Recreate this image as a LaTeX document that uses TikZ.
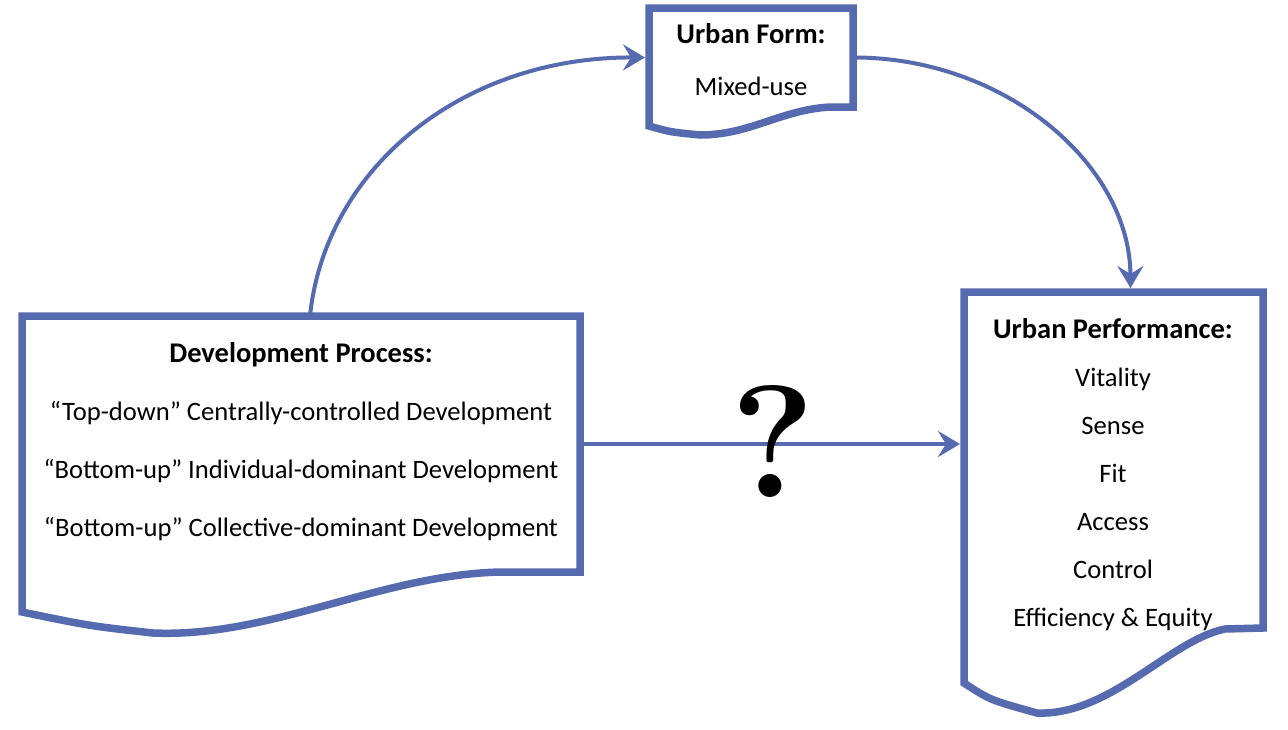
\documentclass[tikz,border=0pt]{standalone}
\usepackage{fontspec}
\newfontfamily\calfont{Carlito}
\usetikzlibrary{arrows.meta}
\definecolor{frameblue}{RGB}{85,106,175}
\tikzset{
  frame/.style={draw=frameblue, line width=7.5pt, line join=miter},
  box/.style={inner sep=0pt, outer sep=0pt},
  link/.style={draw=frameblue, line width=4pt, -{Stealth[length=22pt,width=26pt,inset=8pt]}, shorten >=4pt},
  txt/.style={anchor=base, font=\calfont\fontsize{26.6}{30}\selectfont},
  head/.style={anchor=base, font=\calfont\bfseries\fontsize{28.5}{32}\selectfont}
}
\begin{document}
\begin{tikzpicture}[x=1pt,y=-1pt]
\useasboundingbox (0,0) rectangle (1288,729);
% boxes
\node[box, minimum width=204pt, minimum height=99pt] (form) at (751,57.5) {};
\node[box, minimum width=558pt, minimum height=256pt] (dev) at (301,444) {};
\node[box, minimum width=299pt, minimum height=336pt] (perf) at (1113.5,460) {};
% connectors
\draw[link] ([xshift=9pt]dev.north) .. controls (325,170) and (460,57) .. (form.west);
\draw[link] (form.east) .. controls (1005,57) and (1130,165) .. ([xshift=17pt]perf.north);
\draw[link] (dev.east) -- (perf.west |- dev.east);
% document outlines
\draw[frame] (form.south east) -- (form.north east) -- (form.north west) -- (649,126)
  .. controls (670,132) .. (700,135) .. controls (750,135) and (780,110) .. (830,107) -- cycle;
\draw[frame] (dev.south east) -- (dev.north east) -- (dev.north west) -- (22,612)
  .. controls (90,626) .. (153,633) .. controls (270,638) and (380,575) .. (500,572) -- cycle;
\draw[frame] (perf.south east) -- (perf.north east) -- (perf.north west) -- (964,683)
  .. controls (990,700) .. (1037,713) .. controls (1110,716) and (1170,640) .. (1225,629) -- cycle;
% texts
\node[head] (formhead) at (751,43) {Urban Form:};
\node[txt] (formtxt) at (751,95) {Mixed-use};
\node[head] (devhead) at (301,362) {Development Process:};
\foreach \t [count=\i] in {“Top-down” Centrally-controlled Development,
  “Bottom-up” Individual-dominant Development,
  “Bottom-up” Collective-dominant Development}
  \node[txt] (dev\i) at (301,362+58*\i) {\t};
\node[head] (perfhead) at (1113,338) {Urban Performance:};
\foreach \t [count=\i] in {Vitality, Sense, Fit, Access, Control, Efficiency \& Equity}
  \node[txt] (perf\i) at (1113,338+48*\i) {\t};
\node[font=\bfseries\fontsize{160}{160}\selectfont, inner sep=0pt] (q) at (773,441) {?};
\end{tikzpicture}
\end{document}
